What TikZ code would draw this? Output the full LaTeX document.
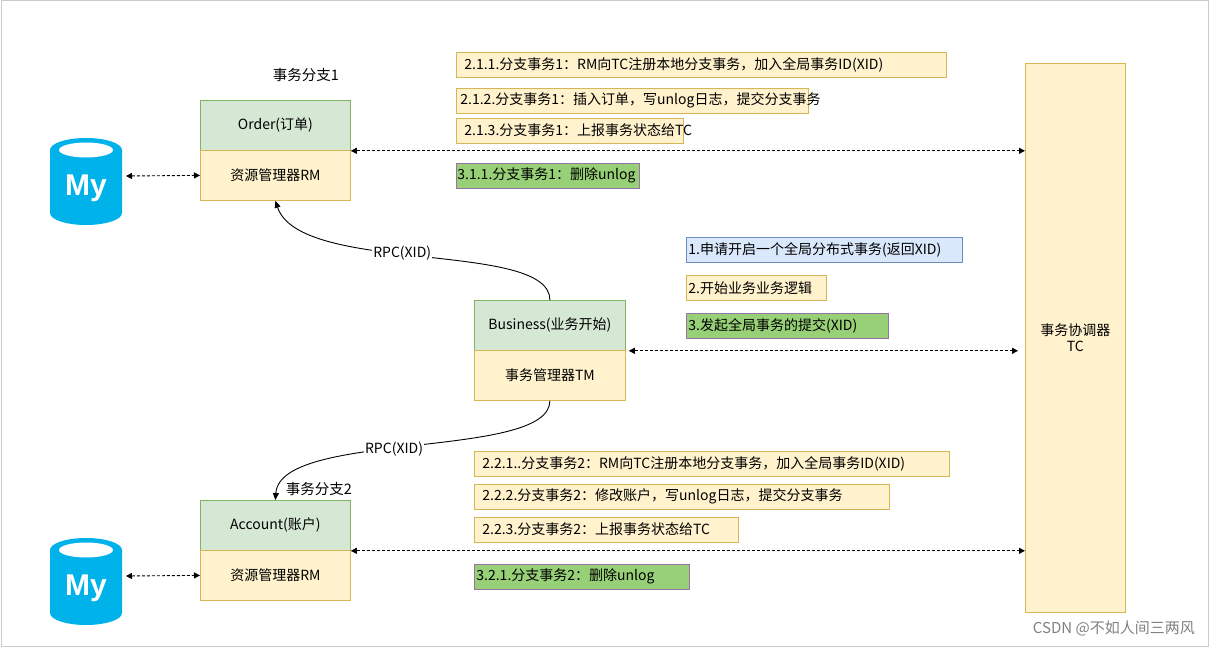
\documentclass[tikz,border=0pt]{standalone}
\usepackage{fontspec}
\setmainfont{Noto Sans CJK SC}
\usetikzlibrary{arrows.meta}
\definecolor{gfill}{HTML}{D5E8D4}\definecolor{gline}{HTML}{82B366}
\definecolor{yfill}{HTML}{FFF2CC}\definecolor{yline}{HTML}{D6B656}
\definecolor{bfill}{HTML}{DAE8FC}\definecolor{bline}{HTML}{6C8EBF}
\definecolor{dgreen}{HTML}{97D077}\definecolor{purp}{HTML}{9673A6}
\definecolor{mysql}{HTML}{00B2EA}
\tikzset{
 lbl/.style={font=\fontsize{14}{16}\selectfont, inner sep=0pt},
 ybox/.style={draw=yline, fill=yfill, line width=0.8pt},
 gbox/.style={draw=gline, fill=gfill, line width=0.8pt},
 dgbox/.style={draw=purp, fill=dgreen, line width=0.8pt},
 bbox/.style={draw=bline, fill=bfill, line width=0.8pt},
 darr/.style={densely dashed, line width=0.9pt, {Triangle[length=6pt,width=6pt]}-{Triangle[length=6pt,width=6pt]}},
 curv/.style={line width=0.9pt, -{Triangle[length=7pt,width=6pt]}},
}
\newcommand{\cyl}[2]{%
 \fill[mysql] (#1-36,#2+12) -- (#1-36,#2+75) arc[start angle=180,end angle=0,x radius=36,y radius=12] -- (#1+36,#2+12) arc[start angle=0,end angle=-180,x radius=36,y radius=12] -- cycle;
 \fill[white] (#1,#2+12) ellipse[x radius=27,y radius=7.5];
 \node[white, font=\fontspec{Liberation Sans}\bfseries\fontsize{30}{30}\selectfont] at (#1,#2+50) {My};}
\begin{document}
\begin{tikzpicture}[x=1pt,y=-1pt]
\useasboundingbox (0,0) rectangle (1209,647);
\draw[gray!40, line width=1pt] (1,1) rectangle (1208,646);
% Order
\node[gbox, minimum width=150, minimum height=50, anchor=north west, lbl] (ordt) at (200,100) {Order(订单)};
\node[ybox, minimum width=150, minimum height=50, anchor=north west, lbl] (ordb) at (200,150) {资源管理器RM};
\node[lbl, font=\fontsize{14.5}{16}\selectfont] (br1) at (306,75) {事务分支1};
% Account
\node[gbox, minimum width=150, minimum height=50, anchor=north west, lbl] (acct) at (200,500) {Account(账户)};
\node[ybox, minimum width=150, minimum height=50, anchor=north west, lbl] (accb) at (200,550) {资源管理器RM};
\node[lbl, font=\fontsize{14.5}{16}\selectfont] (br2) at (319,489) {事务分支2};
% Business
\node[gbox, minimum width=151, minimum height=50, anchor=north west, lbl] (bust) at (474,300) {Business(业务开始)};
\node[ybox, minimum width=151, minimum height=50, anchor=north west, lbl] (busb) at (474,350) {事务管理器TM};
% TC
\node[ybox, minimum width=100, minimum height=549, anchor=north west, lbl, align=center] (tc) at (1025,63) {事务协调器\\TC};
% cylinders
\cyl{86}{138}
\cyl{86}{538}
\coordinate (db1) at (126,176); \coordinate (db2) at (126,576);
\draw[darr] (db1) -- (ordb.west);
\draw[darr] (db2) -- (accb.west);
\draw[darr] (ordt.south east) -- (tc.west |- ordt.south east);
\draw[darr] (acct.south east) -- (tc.west |- acct.south east);
\draw[darr] ([xshift=3pt]bust.south east) -- ([xshift=-7pt]tc.west |- bust.south east);
% curves
\draw[curv] (bust.north) .. controls (550,240) and (300,275) .. node[pos=0.55, fill=white, lbl, inner sep=1pt] (rpc1) {RPC(XID)} (ordb.south);
\draw[curv] (busb.south) .. controls (550,460) and (280,430) .. node[pos=0.55, fill=white, lbl, inner sep=1pt] (rpc2) {RPC(XID)} (acct.north);
% labels
\tikzset{tb/.style={lbl, font=\fontsize{14}{16}\selectfont, anchor=west, minimum height=25, inner xsep=0pt, align=left}}
\newcommand{\tbx}[6]{\node[#1, tb, text width=#3-#4-#4, inner xsep=#4] (#2) at (#5) {#6};}
\tbx{ybox}{l211}{490}{8pt}{456,64.5}{2.1.1.分支事务1：RM向TC注册本地分支事务，加入全局事务ID(XID)}
\tbx{ybox}{l212}{352}{4pt}{456,100.5}{2.1.2.分支事务1：插入订单，写unlog日志，提交分支事务}
\tbx{ybox}{l213}{227}{8pt}{456,130.5}{2.1.3.分支事务1：上报事务状态给TC}
\tbx{dgbox}{l311}{183}{1pt}{456,175.5}{3.1.1.分支事务1：删除unlog}
\tbx{bbox}{l1}{276}{2pt}{686,250}{1.申请开启一个全局分布式事务(返回XID)}
\tbx{ybox}{l2}{140}{2pt}{686,288}{2.开始业务业务逻辑}
\tbx{dgbox}{l3}{202}{2pt}{686,325.5}{3.发起全局事务的提交(XID)}
\tbx{ybox}{l221}{475}{8pt}{474,463.5}{2.2.1..分支事务2：RM向TC注册本地分支事务，加入全局事务ID(XID)}
\tbx{ybox}{l222}{415}{8pt}{474,496.5}{2.2.2.分支事务2：修改账户，写unlog日志，提交分支事务}
\tbx{ybox}{l223}{264}{8pt}{474,529.5}{2.2.3.分支事务2：上报事务状态给TC}
\tbx{dgbox}{l321}{215}{2pt}{474,576.5}{3.2.1.分支事务2：删除unlog}
\node[lbl, gray, font=\fontsize{15}{16}\selectfont, anchor=east] (csdn) at (1195,628) {CSDN @不如人间三两风};
\end{tikzpicture}
\end{document}
